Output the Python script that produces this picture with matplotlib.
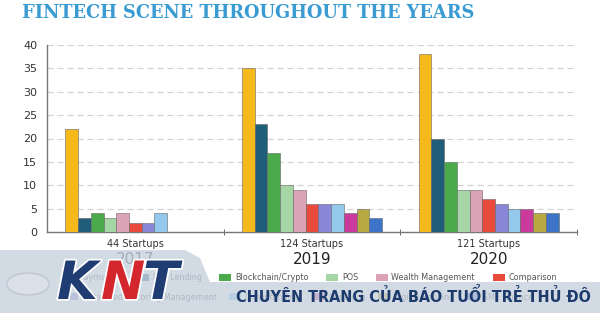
import numpy as np
import matplotlib
matplotlib.use("Agg")
from matplotlib import pyplot as plt
from matplotlib.patches import Patch, Polygon, Circle
import matplotlib.patheffects as pe

# data
years = ["2017", "2019", "2020"]
startup_labels = ["44 Startups", "124 Startups", "121 Startups"]
categories = ["Payments", "P2P Lending", "Blockchain/Crypto", "POS", "Wealth Management",
              "Comparison", "Data/Credit Scoring Management", "Crowdfunding", "InsurTech",
              "Digital Banking", "SME Finance"]
colors = ["#f5b91c", "#1f5d78", "#4aaa4c", "#a6d6a6", "#dca2b6", "#e84a3c",
          "#8a86d8", "#94c8ec", "#c93a9c", "#b8a940", "#3d74c8"]
counts_2017 = [22, 3, 4, 3, 4, 2, 2, 4, 0, 0, 0]
counts_2019 = [35, 23, 17, 10, 9, 6, 6, 6, 4, 5, 3]
counts_2020 = [38, 20, 15, 9, 9, 7, 6, 5, 5, 4, 4]

W, H = 600, 313


def fx(x):
    return x / W


def fy(y):
    return 1 - y / H


fig = plt.figure(figsize=(6, 3.13), dpi=100)
fig.patch.set_facecolor("white")
ax = fig.add_axes([fx(47), fy(232), fx(577) - fx(47), fy(45) - fy(232)])

table = np.array([counts_2017, counts_2019, counts_2020])
n_cat = len(categories)
bw = 0.072
x = np.arange(len(years))
for i, (cat, col) in enumerate(zip(categories, colors)):
    pos = x + (i - (n_cat - 1) / 2) * bw
    ax.bar(pos, table[:, i], width=bw, color=col, edgecolor="#666666", linewidth=0.4, zorder=3)

ax.set_xlim(-0.5, 2.5)
ax.set_ylim(0, 40)
ax.set_yticks(range(0, 41, 5))
ax.yaxis.grid(True, color="#d5d5d5", linestyle=(0, (5, 3)), linewidth=0.9, zorder=0)
ax.tick_params(axis="y", length=0, pad=7, labelsize=8, labelcolor="#333333")
ax.set_xticks(x)
ax.set_xticklabels(startup_labels, fontsize=7, color="#333333")
ax.tick_params(axis="x", length=0, pad=5)
ax.set_xticks([0.5, 1.5, 2.5], minor=True)
ax.tick_params(axis="x", which="minor", length=5, direction="inout", color="#555555")
for s in ["top", "right"]:
    ax.spines[s].set_visible(False)
for s in ["left", "bottom"]:
    ax.spines[s].set_color("#777777")
    ax.spines[s].set_linewidth(1)
for xi, yr in zip(x, years):
    ax.text(xi, -0.145, yr, transform=ax.get_xaxis_transform(), ha="center", va="center",
            fontsize=11, color="#222222")

fig.text(fx(22), fy(13), "FINTECH SCENE THROUGHOUT THE YEARS", ha="left", va="center",
         family="DejaVu Serif", fontweight="bold", fontsize=12.8, color="#3a9bd3")

# legend, two rows
row1 = [Patch(facecolor=c, edgecolor="none") for c in colors[:6]]
row2 = [Patch(facecolor=c, edgecolor="none") for c in colors[6:]]
kw = dict(frameon=False, fontsize=5.8, handlelength=1.5, handleheight=1.0, borderpad=0,
          handletextpad=0.45, labelcolor="#555555")
fig.legend(row1, categories[:6], loc="center left", bbox_to_anchor=(fx(60), fy(278)),
           ncol=6, columnspacing=2.2, **kw)
fig.legend(row2, categories[6:], loc="center left", bbox_to_anchor=(fx(62), fy(297)),
           ncol=5, columnspacing=1.5, **kw)

# watermark banner
band = Polygon([(fx(0), fy(250)), (fx(185), fy(250)), (fx(200), fy(258)), (fx(210), fy(282)),
                (fx(600), fy(282)), (fx(600), fy(313)), (fx(0), fy(313))],
               closed=True, transform=fig.transFigure, facecolor="#c7d1de", alpha=0.8,
               edgecolor="none", zorder=10)
fig.add_artist(band)
fig.add_artist(Circle((fx(28), fy(284)), 21 / W, transform=fig.transFigure, facecolor="#dde3ea",
                      edgecolor="#b9c2cc", alpha=0.8, zorder=11))
stroke = [pe.withStroke(linewidth=2.5, foreground="white")]
for letter, xpos, col in [("K", 57, "#203d73"), ("N", 101, "#d3262d"), ("T", 143, "#203d73")]:
    fig.text(fx(xpos), fy(284), letter, ha="left", va="center", fontsize=38, fontweight="heavy",
             style="italic", color=col, path_effects=stroke, zorder=12)
fig.text(fx(413), fy(296), "CHUYÊN TRANG CỦA BÁO TUỔI TRẺ THỦ ĐÔ", ha="center", va="center",
         family="DejaVu Sans", fontstretch="condensed", fontweight="bold", fontsize=11.5,
         color="#1d3a6c", zorder=12)

fig.savefig("out.png", dpi=100)
